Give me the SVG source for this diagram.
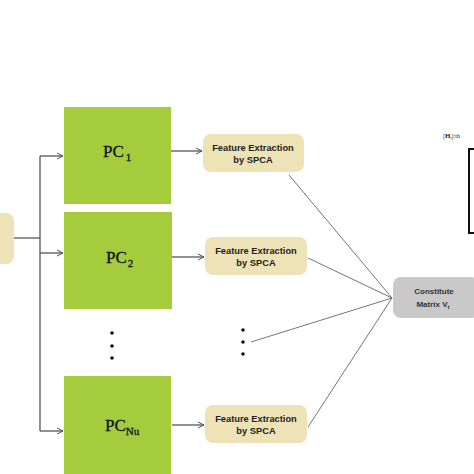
<svg xmlns="http://www.w3.org/2000/svg" width="474" height="474" viewBox="0 0 474 474">
<defs>
<style>
.pc{fill:#a5cc3d}
.fe{fill:#ede3b6}
.ln{stroke:#555;stroke-width:1.3;fill:none}
.dl{stroke:#666;stroke-width:0.9;fill:none}
.pct{font-family:"Liberation Serif",serif;font-size:17px;fill:#111;stroke:#111;stroke-width:0.3}
.sub{font-family:"Liberation Serif",serif;font-size:11px;fill:#111}
.fet{font-family:"Liberation Sans",Arial,sans-serif;font-size:9.3px;font-weight:bold;fill:#222;text-anchor:middle}
.ct{font-family:"Liberation Sans",Arial,sans-serif;font-size:8px;font-weight:bold;fill:#333;text-anchor:middle}
.dot{fill:#111}
.ht{font-family:"Liberation Serif",serif;font-size:6px;fill:#222}
</style>
<marker id="ar" markerWidth="8" markerHeight="8" refX="7" refY="4" orient="auto" markerUnits="userSpaceOnUse">
<path d="M1,1 L7,4 L1,7" fill="none" stroke="#555" stroke-width="1"/>
</marker>
</defs>
<rect width="474" height="474" fill="#fff"/>
<g id="connectors">
<path class="ln" d="M14,238 H40"/>
<path class="ln" d="M40,156 V431"/>
<path class="ln" d="M40,156 H63" marker-end="url(#ar)"/>
<path class="ln" d="M40,253 H63" marker-end="url(#ar)"/>
<path class="ln" d="M40,431 H63" marker-end="url(#ar)"/>
<path class="ln" d="M171,151 H202" marker-end="url(#ar)"/>
<path class="ln" d="M172,257 H204" marker-end="url(#ar)"/>
<path class="ln" d="M172,425 H204" marker-end="url(#ar)"/>
<path class="dl" d="M289,175 L392,298"/>
<path class="dl" d="M308,258 L392,298"/>
<path class="dl" d="M251,342 L392,298"/>
<path class="dl" d="M308,427 L392,298"/>
</g>
<g id="input">
<rect x="-20" y="213" width="34" height="51" rx="8" class="fe"/>
</g>
<g id="pc1">
<rect x="64" y="107" width="107" height="97" class="pc"/>
<text x="103" y="157" class="pct">PC<tspan class="sub" dx="2" dy="4">1</tspan></text>
</g>
<g id="pc2">
<rect x="64" y="212" width="108" height="97" class="pc"/>
<text x="106" y="263" class="pct">PC<tspan class="sub" dx="1" dy="4">2</tspan></text>
</g>
<g id="pcdots">
<circle cx="112" cy="333" r="1.8" class="dot"/>
<circle cx="112" cy="346" r="1.8" class="dot"/>
<circle cx="112" cy="358" r="1.8" class="dot"/>
</g>
<g id="pcnu">
<rect x="64" y="376" width="107" height="98" class="pc"/>
<text x="105" y="431" class="pct">PC<tspan class="sub" dx="0" dy="4">Nu</tspan></text>
</g>
<g id="fe1">
<rect x="203" y="134" width="101" height="38" rx="8" class="fe"/>
<text x="253" y="151" class="fet">Feature Extraction</text>
<text x="253" y="163" class="fet">by SPCA</text>
</g>
<g id="fe2">
<rect x="205" y="237" width="102" height="38" rx="8" class="fe"/>
<text x="256" y="254" class="fet">Feature Extraction</text>
<text x="256" y="266" class="fet">by SPCA</text>
</g>
<g id="fedots">
<circle cx="243" cy="330" r="1.8" class="dot"/>
<circle cx="243" cy="342" r="1.8" class="dot"/>
<circle cx="243" cy="354" r="1.8" class="dot"/>
</g>
<g id="fe3">
<rect x="205" y="405" width="102" height="38" rx="8" class="fe"/>
<text x="256" y="422" class="fet">Feature Extraction</text>
<text x="256" y="434" class="fet">by SPCA</text>
</g>
<g id="constitute">
<rect x="393" y="277" width="86" height="41" rx="8" fill="#c9c9c9"/>
<text x="434" y="294" class="ct">Constitute</text>
<text x="433" y="307" class="ct">Matrix V<tspan font-size="6px" dy="2">t</tspan></text>
</g>
<g id="ht">
<text x="443" y="138" class="ht">[<tspan font-weight="bold" font-size="7px">H</tspan><tspan font-size="4px" dy="1">t</tspan><tspan dy="-1">]:th</tspan></text>
<rect x="469" y="149" width="10" height="84" fill="none" stroke="#111" stroke-width="2"/>
</g>
</svg>
